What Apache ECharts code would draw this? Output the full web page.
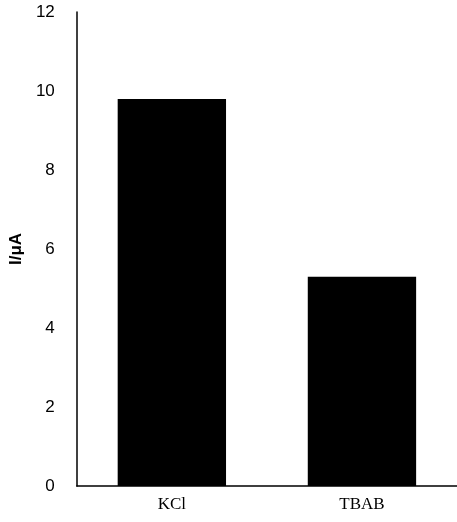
<!DOCTYPE html>
<html><head><meta charset="utf-8">
<script src="https://cdn.jsdelivr.net/npm/echarts@6/dist/echarts.min.js"></script>
<style>html,body{margin:0;padding:0;background:#fff}#c{width:457px;height:522px}</style>
</head><body><div id="c"></div>
<script>
const categories = ["KCl", "TBAB"];
const values = [9.8, 5.3];
const chart = echarts.init(document.getElementById('c'));
chart.setOption({
  animation: false,
  grid: {left: 76, right: 0, top: 12, bottom: 36},
  xAxis: {
    type: 'category', data: categories,
    axisLine: {lineStyle: {color: '#000', width: 1.5}},
    axisTick: {show: false},
    axisLabel: {color: '#000', fontFamily: 'Liberation Serif', fontSize: 17, margin: 10}
  },
  yAxis: {
    type: 'value', min: 0, max: 12, interval: 2,
    name: 'I/μA', nameLocation: 'middle', nameGap: 50,
    nameTextStyle: {color: '#000', fontFamily: 'Liberation Sans', fontWeight: 'bold', fontSize: 17},
    axisLine: {show: true, lineStyle: {color: '#000', width: 1.5}},
    axisTick: {show: false},
    splitLine: {show: false},
    axisLabel: {color: '#000', fontFamily: 'Liberation Sans', fontSize: 17, margin: 22}
  },
  series: [{type: 'bar', data: values, barWidth: '57%', itemStyle: {color: '#000'}}]
});
</script></body></html>
